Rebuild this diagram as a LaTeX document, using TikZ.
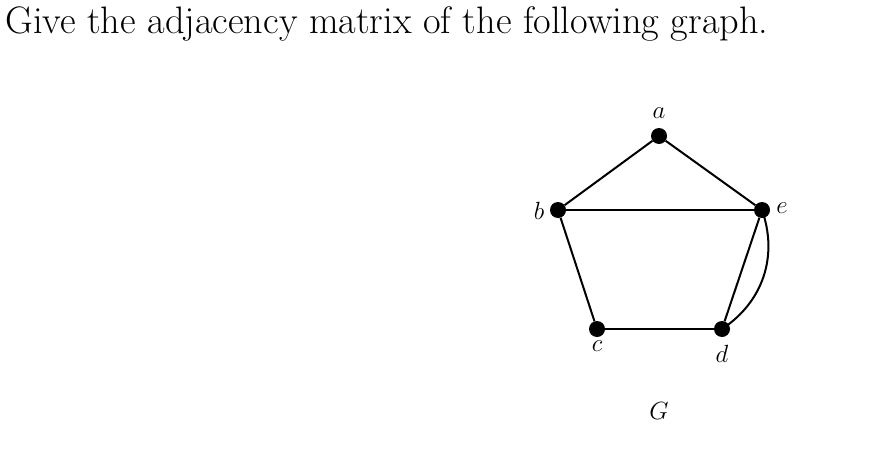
\documentclass[tikz,border=0pt]{standalone}
\begin{document}
\begin{tikzpicture}[x=1pt,y=-1pt,
  vtx/.style={circle,fill=black,inner sep=0pt,minimum size=16pt},
  lbl/.style={font=\fontsize{40}{48}\selectfont,inner sep=0pt},
  edge/.style={line width=2pt}]
\useasboundingbox (0,0) rectangle (886,452);
\node[anchor=base west,inner sep=0pt,font=\fontsize{38.3}{46}\selectfont] (title) at (5,34) {Give the adjacency matrix of the following graph.};
\node[vtx] (a) at (659,136) {};
\node[vtx] (b) at (558,210) {};
\node[vtx] (e) at (762,210) {};
\node[vtx] (c) at (597,329) {};
\node[vtx] (d) at (722,329) {};
\node[lbl] (la) at (659,113) {$a$};
\node[lbl] (lb) at (539,211) {$b$};
\node[lbl] (le) at (782,208) {$e$};
\node[lbl] (lc) at (597,346) {$c$};
\node[lbl] (ld) at (722,354) {$d$};
\node[lbl] (G) at (659,411) {$G$};
\draw[edge] (a) -- (b);
\draw[edge] (a) -- (e);
\draw[edge] (b) -- (e);
\draw[edge] (b) -- (c);
\draw[edge] (c) -- (d);
\draw[edge] (e) -- (d);
\draw[edge] (e.center) to[bend left=38] (d.center);
\end{tikzpicture}
\end{document}
